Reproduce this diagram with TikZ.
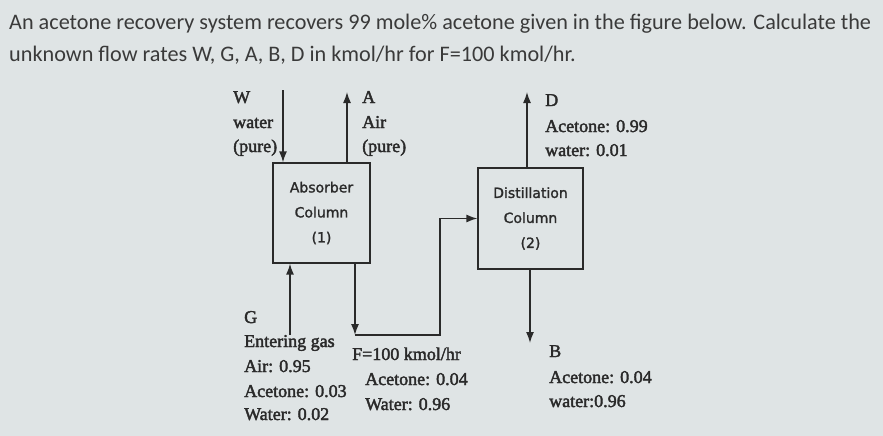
\documentclass[tikz,border=0pt]{standalone}
\usepackage{fontspec}
\setmainfont{Liberation Serif}
\newfontfamily\tagfont{Liberation Serif}[FakeBold=2.2]
\newfontfamily\titlefont{Carlito}
\newfontfamily\boxfont{DejaVu Sans}[FakeBold=1.5]
\usetikzlibrary{arrows.meta}
\definecolor{mypaper}{HTML}{DFE4E5}
\definecolor{myink}{HTML}{2A2A2A}
\definecolor{mytitle}{HTML}{3A3A3A}
\tikzset{
  unitbox/.style={draw=myink, line width=1.3pt, rectangle, align=center, text=myink, font=\boxfont\fontsize{14pt}{25pt}\selectfont},
  flow/.style={draw=myink, line width=1.4pt, -{Latex[length=11pt,width=8pt]}},
  tag/.style={anchor=base west, inner sep=0pt, text=myink, font=\tagfont\fontsize{18pt}{18pt}\selectfont},
  headline/.style={anchor=base west, inner sep=0pt, text=mytitle, font=\titlefont\fontsize{22.2pt}{22pt}\selectfont},
}

\begin{document}
\begin{tikzpicture}[x=1pt, y=-1pt]%
\fill[mypaper] (0, 0) rectangle (883, 436);%
\useasboundingbox (0, 0) rectangle (883, 436);%
\node[headline] (line1) at (9, 30) {An acetone recovery system recovers 99 mole\% acetone given in the figure below. Calculate the};%
\node[headline] (line2) at (9, 62) {unknown flow rates W, G, A, B, D in kmol/hr for F=100 kmol/hr.};%
\node[unitbox, minimum width=97pt, minimum height=100pt] (absorber) at (321.5, 213) {Absorber\\Column\\(1)};%
\node[unitbox, minimum width=105pt, minimum height=101pt] (distill) at (530.5, 218.5) {Distillation\\Column\\(2)};%
\coordinate (w0) at (283, 90);%
\coordinate (a0) at (347, 92);%
\coordinate (g0) at (290, 335);%
\coordinate (f0) at (355, 335);%
\coordinate (f1) at (440, 335);%
\coordinate (d0) at (527, 92);%
\coordinate (b0) at (530, 343);%
\draw[flow] (w0) -- (w0 |- absorber.north);%
\draw[flow] (a0 |- absorber.north) -- (a0);%
\draw[flow] (g0) -- (g0 |- absorber.south);%
\draw[flow] (f0 |- absorber.south) -- (f0);%
\draw[flow] (f0) -- (f1) |- (distill.west);%
\draw[flow] (d0 |- distill.north) -- (d0);%
\draw[flow] (b0 |- distill.south) -- (b0);%
\node[tag] (wname) at (233, 103) {W};%
\node[tag] (wkind) at (233, 128) {water};%
\node[tag] (wpure) at (233, 152) {(pure)};%
\node[tag] (aname) at (362, 103) {A};%
\node[tag] (akind) at (362, 128) {Air};%
\node[tag] (apure) at (362, 152) {(pure)};%
\node[tag] (dname) at (545, 106) {D};%
\node[tag] (dacet) at (545, 132) {Acetone: 0.99};%
\node[tag] (dwater) at (545, 156) {water: 0.01};%
\node[tag] (gname) at (244, 323) {G};%
\node[tag] (gkind) at (244, 347) {Entering gas};%
\node[tag] (gair) at (244, 372) {Air: 0.95};%
\node[tag] (gacet) at (244, 397) {Acetone: 0.03};%
\node[tag] (gwater) at (244, 420) {Water: 0.02};%
\node[tag] (fname) at (352, 360) {F=100 kmol/hr};%
\node[tag] (facet) at (365, 385) {Acetone: 0.04};%
\node[tag] (fwater) at (365, 410) {Water: 0.96};%
\node[tag] (bname) at (549, 357) {B};%
\node[tag] (bacet) at (549, 383) {Acetone: 0.04};%
\node[tag] (bwater) at (549, 407) {water:0.96};%
\end{tikzpicture}
\end{document}
